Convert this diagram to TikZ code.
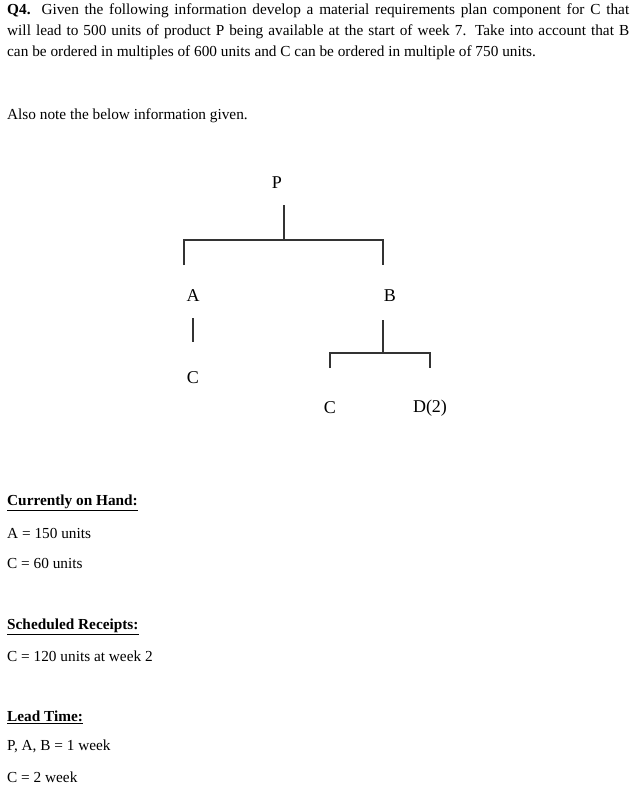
\documentclass[tikz,border=0pt]{standalone}
\usepackage{fontspec}
\setmainfont{Liberation Serif}
\begin{document}
\begin{tikzpicture}[x=1pt,y=-1pt,
  txt/.style={anchor=west,inner sep=0pt,font=\fontsize{15.3}{21}\selectfont},
  tree/.style={inner sep=1pt,font=\fontsize{18}{20}\selectfont},
  ln/.style={line width=1.4pt,black!80}]
\useasboundingbox (0,0) rectangle (634,796);
\node[anchor=north west,inner sep=0pt,text width=622pt,align=justify,font=\fontsize{15.3}{21}\selectfont] (q) at (7,4)
 {\textbf{Q4.} Given the following information develop a material requirements plan component for C that\linebreak will lead to 500 units of product P being available at the start of week 7. Take into account that B\linebreak can be ordered in multiples of 600 units and C can be ordered in multiple of 750 units.};
\node[txt] (also) at (7,116) {Also note the below information given.};
% tree
\node[tree] (P) at (277,183) {P};
\node[tree] (A) at (193,296) {A};
\node[tree] (B) at (390,296) {B};
\node[tree] (C1) at (193,378) {C};
\node[tree] (C2) at (330,408) {C};
\node[tree] (D) at (430,408) {D(2)};
\coordinate (p1) at (284,205);
\draw[ln] (p1) -- (284,240) (184,265) -- (184,240) -- (383,240) -- (383,265);
\draw[ln] (193,318) -- (193,342);
\draw[ln] (383,320) -- (383,353) (330,368) -- (330,353) -- (430,353) -- (430,368);
% info
\node[txt] (h1) at (7,503) {\textbf{\underline{Currently on Hand:}}};
\node[txt] (a1) at (7,533) {A = 150 units};
\node[txt] (c1) at (7,563) {C = 60 units};
\node[txt] (h2) at (7,627) {\textbf{\underline{Scheduled Receipts:}}};
\node[txt] (c2) at (7,656) {C = 120 units at week 2};
\node[txt] (h3) at (7,717) {\textbf{\underline{Lead Time:}}};
\node[txt] (l1) at (7,746) {P, A, B = 1 week};
\node[txt] (l2) at (7,777) {C = 2 week};
\end{tikzpicture}
\end{document}
